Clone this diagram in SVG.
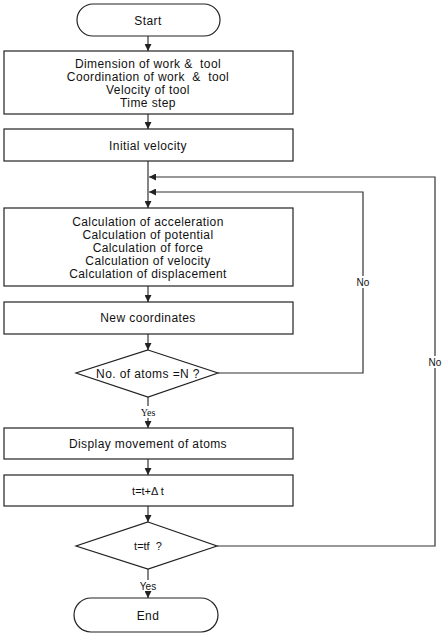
<svg xmlns="http://www.w3.org/2000/svg" width="444" height="634" viewBox="0 0 444 634">
<style>
.n{fill:#fff;stroke:#222;stroke-width:1.2}
.t{font-family:"Liberation Sans",Arial,sans-serif;font-size:12px;letter-spacing:0.4px;fill:#111;text-anchor:middle;white-space:pre}
.s{font-size:11px;letter-spacing:0}
.l{font-family:"Liberation Sans",Arial,sans-serif;font-size:10px;fill:#111;text-anchor:middle}
.y{font-family:"Liberation Serif","Times New Roman",serif;font-size:10px;fill:#111;text-anchor:middle}
.c{fill:none;stroke:#333;stroke-width:1.2}
</style>
<defs>
<marker id="a" viewBox="0 0 10 10" refX="10" refY="5" markerWidth="7" markerHeight="7" orient="auto" markerUnits="userSpaceOnUse">
<path d="M0,0 L10,5 L0,10 z" fill="#222"/>
</marker>
</defs>
<rect width="444" height="634" fill="#fff"/>
<g id="connectors">
<path class="c" d="M148,36 V51" marker-end="url(#a)"/>
<path class="c" d="M148,114 V129" marker-end="url(#a)"/>
<path class="c" d="M148,161 V208" marker-end="url(#a)"/>
<path class="c" d="M148,286 V302" marker-end="url(#a)"/>
<path class="c" d="M148,334 V350" marker-end="url(#a)"/>
<path class="c" d="M148,397 V406"/>
<path class="c" d="M148,418 V428" marker-end="url(#a)"/>
<path class="c" d="M148,459 V475" marker-end="url(#a)"/>
<path class="c" d="M148,506 V522" marker-end="url(#a)"/>
<path class="c" d="M148,569 V580"/>
<path class="c" d="M148,591 V598" marker-end="url(#a)"/>
<path class="c" d="M218,373 H363 V288"/>
<path class="c" d="M363,276 V192 H149" marker-end="url(#a)"/>
<path class="c" d="M217,546 H435 V368"/>
<path class="c" d="M435,356 V177 H149" marker-end="url(#a)"/>
<text class="l" x="363" y="285.5">No</text>
<text class="l" x="435" y="365.5">No</text>
<text class="y" x="148" y="416">Yes</text>
<text class="l" x="148" y="589.5">Yes</text>
</g>
<g id="start">
<rect class="n" x="77" y="4" width="143" height="32" rx="16"/>
<text class="t" x="148" y="24.5">Start</text>
</g>
<g id="input">
<rect class="n" x="4" y="51" width="289" height="63"/>
<text class="t" x="148" y="67.5">Dimension of work &amp;  tool</text>
<text class="t" x="148" y="80.5">Coordination of work  &amp;  tool</text>
<text class="t" x="148" y="93.5">Velocity of tool</text>
<text class="t" x="148" y="106.5">Time step</text>
</g>
<g id="initvel">
<rect class="n" x="4" y="129" width="289" height="32"/>
<text class="t" x="148" y="150">Initial velocity</text>
</g>
<g id="calc">
<rect class="n" x="4" y="208" width="289" height="78"/>
<text class="t" x="148" y="226">Calculation of acceleration</text>
<text class="t" x="148" y="239">Calculation of potential</text>
<text class="t" x="148" y="252">Calculation of force</text>
<text class="t" x="148" y="265">Calculation of velocity</text>
<text class="t" x="148" y="278">Calculation of displacement</text>
</g>
<g id="newcoord">
<rect class="n" x="4" y="302" width="289" height="32"/>
<text class="t" x="148" y="321.5">New coordinates</text>
</g>
<g id="check1">
<polygon class="n" points="148,350 218,373 148,397 76,373"/>
<text class="t" x="148" y="377.5">No. of atoms =N ?</text>
</g>
<g id="display">
<rect class="n" x="4" y="428" width="289" height="31"/>
<text class="t" x="148" y="447.5">Display movement of atoms</text>
</g>
<g id="step">
<rect class="n" x="4" y="475" width="289" height="31"/>
<text class="t s" x="148" y="495">t=t+Δ t</text>
</g>
<g id="check2">
<polygon class="n" points="148,522 217,546 148,569 76,546"/>
<text class="t s" x="148" y="550">t=tf  ?</text>
</g>
<g id="end">
<rect class="n" x="74" y="598" width="144" height="34" rx="17"/>
<text class="t" x="148" y="619.5">End</text>
</g>
</svg>
